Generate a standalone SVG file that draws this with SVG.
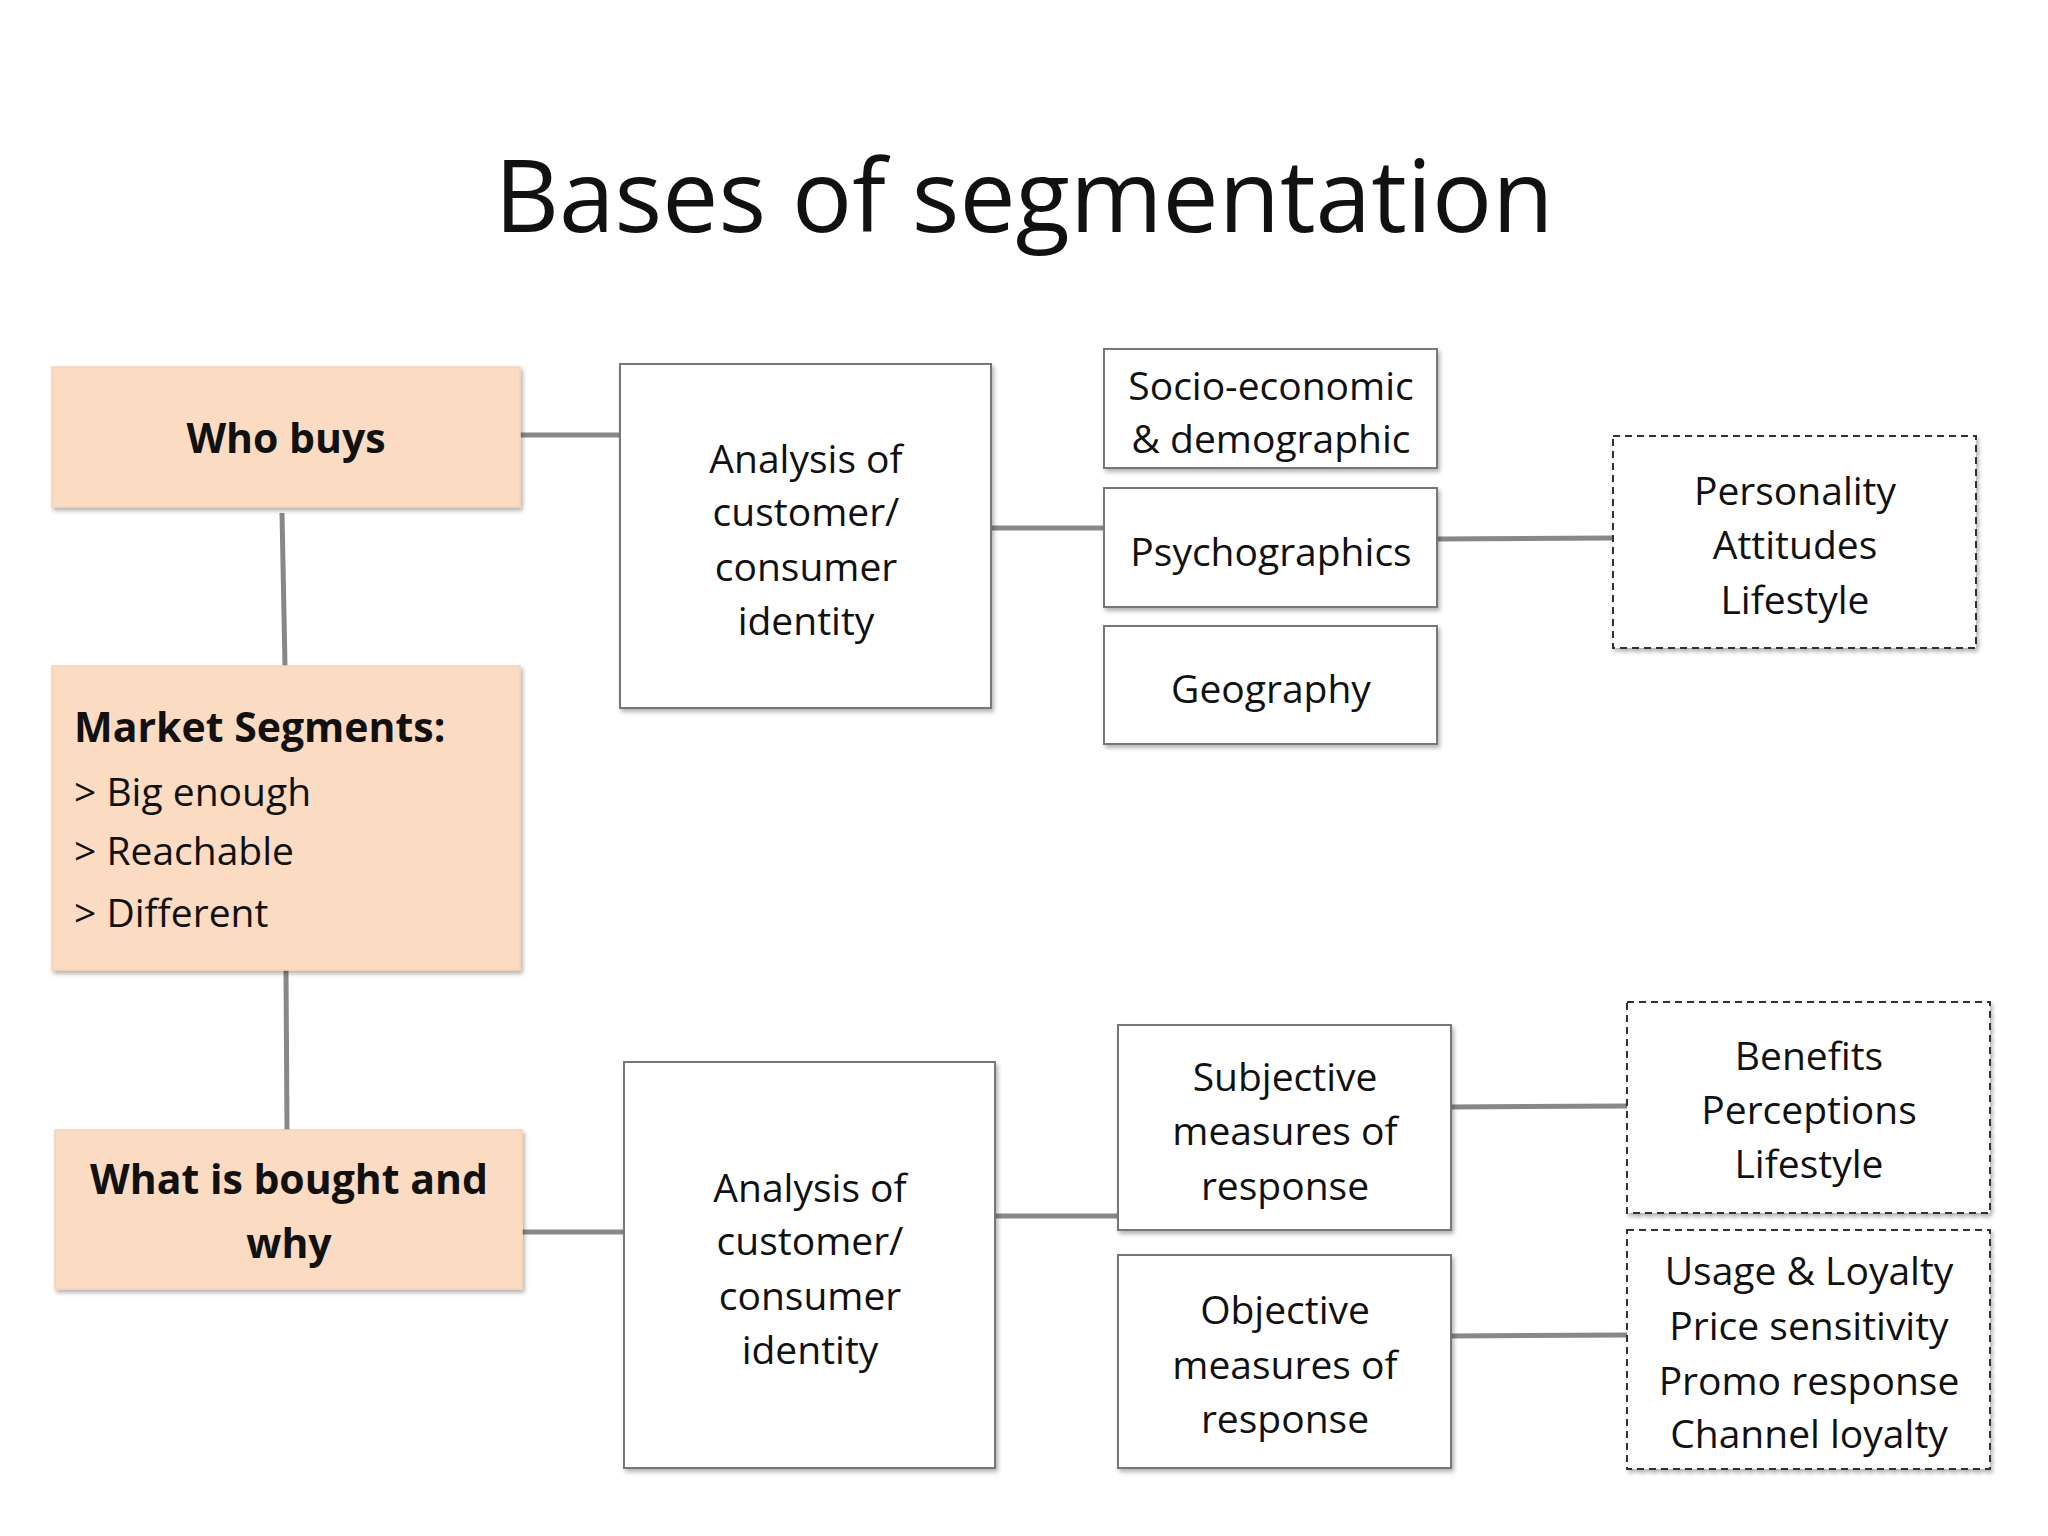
<svg xmlns="http://www.w3.org/2000/svg" width="2048" height="1536" viewBox="0 0 2048 1536">
<defs>
<filter id="sh" x="-5%" y="-5%" width="115%" height="115%"><feDropShadow dx="2" dy="3" stdDeviation="2" flood-color="#000" flood-opacity="0.3"/></filter>
</defs>
<style>
text{font-family:"Open Sans","Liberation Sans",sans-serif;font-size:39px;fill:#111;text-anchor:middle}
.b{font-weight:bold;font-size:41px}
.l{text-anchor:start}
.o{fill:#FBDCC3;stroke:#F5D2B8;stroke-width:1.5;filter:url(#sh)}
.w{fill:#fff;stroke:#777;stroke-width:2;filter:url(#sh)}
.d{fill:#fff;stroke:#333;stroke-width:2;stroke-dasharray:7 5;filter:url(#sh)}
.c{stroke:#888;stroke-width:5;fill:none}
</style>
<rect width="2048" height="1536" fill="#fff"/>
<text x="1024" y="232" style="font-size:100px">Bases of segmentation</text>
<g id="connectors">
<line class="c" x1="520" y1="435" x2="620" y2="435"/>
<line class="c" x1="282" y1="513" x2="285" y2="666"/>
<line class="c" x1="286" y1="970" x2="287" y2="1130"/>
<line class="c" x1="522" y1="1232" x2="624" y2="1232"/>
<line class="c" x1="991" y1="528" x2="1104" y2="528"/>
<line class="c" x1="1437" y1="539" x2="1613" y2="538"/>
<line class="c" x1="995" y1="1216" x2="1118" y2="1216"/>
<line class="c" x1="1451" y1="1107" x2="1627" y2="1106"/>
<line class="c" x1="1451" y1="1336" x2="1627" y2="1335"/>
</g>
<g id="who"><rect class="o" x="52" y="367" width="468" height="140"/><text class="b" x="286" y="453">Who buys</text></g>
<g id="market"><rect class="o" x="52" y="666" width="468" height="304"/>
<text class="b l" x="74" y="742">Market Segments:</text>
<text class="l" x="74" y="806">&gt; Big enough</text>
<text class="l" x="74" y="865">&gt; Reachable</text>
<text class="l" x="74" y="927">&gt; Different</text></g>
<g id="what"><rect class="o" x="55" y="1130" width="467" height="159"/>
<text class="b" x="289" y="1194">What is bought and</text><text class="b" x="289" y="1258">why</text></g>
<g id="analysis1"><rect class="w" x="620" y="364" width="371" height="344"/>
<text x="806" y="473">Analysis of</text><text x="806" y="526">customer/</text><text x="806" y="581">consumer</text><text x="806" y="635">identity</text></g>
<g id="socio"><rect class="w" x="1104" y="349" width="333" height="119"/>
<text x="1271" y="400">Socio-economic</text><text x="1271" y="453">&amp; demographic</text></g>
<g id="psycho"><rect class="w" x="1104" y="488" width="333" height="119"/><text x="1271" y="566">Psychographics</text></g>
<g id="geo"><rect class="w" x="1104" y="626" width="333" height="118"/><text x="1271" y="703">Geography</text></g>
<g id="personality"><rect class="d" x="1613" y="436" width="363" height="212"/>
<text x="1795" y="505">Personality</text><text x="1795" y="559">Attitudes</text><text x="1795" y="614">Lifestyle</text></g>
<g id="analysis2"><rect class="w" x="624" y="1062" width="371" height="406"/>
<text x="810" y="1202">Analysis of</text><text x="810" y="1255">customer/</text><text x="810" y="1310">consumer</text><text x="810" y="1364">identity</text></g>
<g id="subjective"><rect class="w" x="1118" y="1025" width="333" height="205"/>
<text x="1285" y="1091">Subjective</text><text x="1285" y="1145">measures of</text><text x="1285" y="1200">response</text></g>
<g id="objective"><rect class="w" x="1118" y="1255" width="333" height="213"/>
<text x="1285" y="1324">Objective</text><text x="1285" y="1379">measures of</text><text x="1285" y="1433">response</text></g>
<g id="benefits"><rect class="d" x="1627" y="1002" width="363" height="211"/>
<text x="1809" y="1070">Benefits</text><text x="1809" y="1124">Perceptions</text><text x="1809" y="1178">Lifestyle</text></g>
<g id="usage"><rect class="d" x="1627" y="1230" width="363" height="239"/>
<text x="1809" y="1285">Usage &amp; Loyalty</text><text x="1809" y="1340">Price sensitivity</text><text x="1809" y="1395">Promo response</text><text x="1809" y="1448">Channel loyalty</text></g>
</svg>
